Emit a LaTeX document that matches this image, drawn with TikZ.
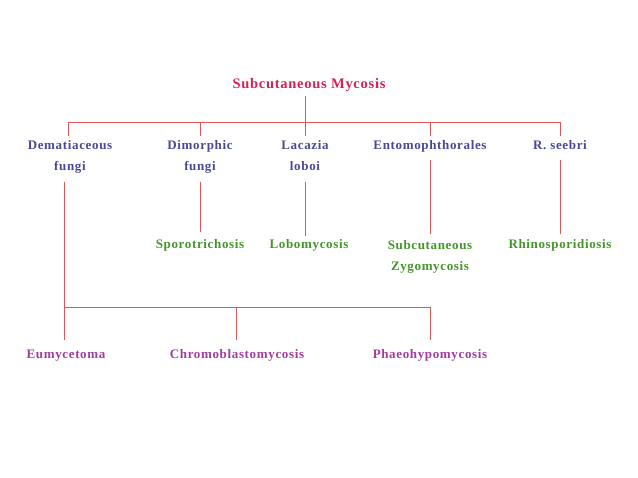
\documentclass[tikz,border=0pt]{standalone}
\usepackage{fontspec}
\setmainfont{Liberation Serif}[LetterSpace=5]
\definecolor{ln}{RGB}{228,84,84}
\definecolor{ttl}{RGB}{214,32,84}
\definecolor{bl}{RGB}{72,72,150}
\definecolor{gr}{RGB}{66,150,40}
\definecolor{pu}{RGB}{160,60,160}
\begin{document}
\begin{tikzpicture}[x=1pt,y=-1pt,
  lbl/.style={font=\bfseries\fontsize{13}{21}\selectfont,align=center,inner sep=0pt,anchor=base},
  conn/.style={draw=ln,line width=0.8pt}]
\useasboundingbox (0,0) rectangle (638,478);
\node[lbl,text=ttl,font=\bfseries\fontsize{14.5}{16}\selectfont] (t) at (309,89) {Subcutaneous Mycosis};
\node[lbl,text=bl] (a) at (70,171) {Dematiaceous\\fungi};
\node[lbl,text=bl] (b) at (200,171) {Dimorphic\\fungi};
\node[lbl,text=bl] (c) at (305,171) {Lacazia\\loboi};
\node[lbl,text=bl] (d) at (430,150) {Entomophthorales};
\node[lbl,text=bl] (e) at (560,150) {R. seebri};
\node[lbl,text=gr] (b2) at (200,249) {Sporotrichosis};
\node[lbl,text=gr] (c2) at (309,249) {Lobomycosis};
\node[lbl,text=gr] (d2) at (430,271) {Subcutaneous\\Zygomycosis};
\node[lbl,text=gr] (e2) at (560,249) {Rhinosporidiosis};
\node[lbl,text=pu] (p1) at (66,359) {Eumycetoma};
\node[lbl,text=pu] (p2) at (237,359) {Chromoblastomycosis};
\node[lbl,text=pu] (p3) at (430,359) {Phaeohypomycosis};
\coordinate (h1) at (305,122);
\coordinate (h2) at (236,307);
\draw[conn] (305,96) -- (h1);
\draw[conn] (68,136) -- (68,122) -- (560,122) -- (560,136);
\foreach \x in {200,305,430}{\draw[conn] (\x,122) -- (\x,136);}
\draw[conn] (64,182) -- (64,340);
\draw[conn] (64,307) -- (430,307) -- (430,340);
\draw[conn] (h2) -- (236,340);
\draw[conn] (200,182) -- (200,232);
\draw[conn] (305,182) -- (305,236);
\draw[conn] (430,160) -- (430,234);
\draw[conn] (560,160) -- (560,234);
\end{tikzpicture}
\end{document}
